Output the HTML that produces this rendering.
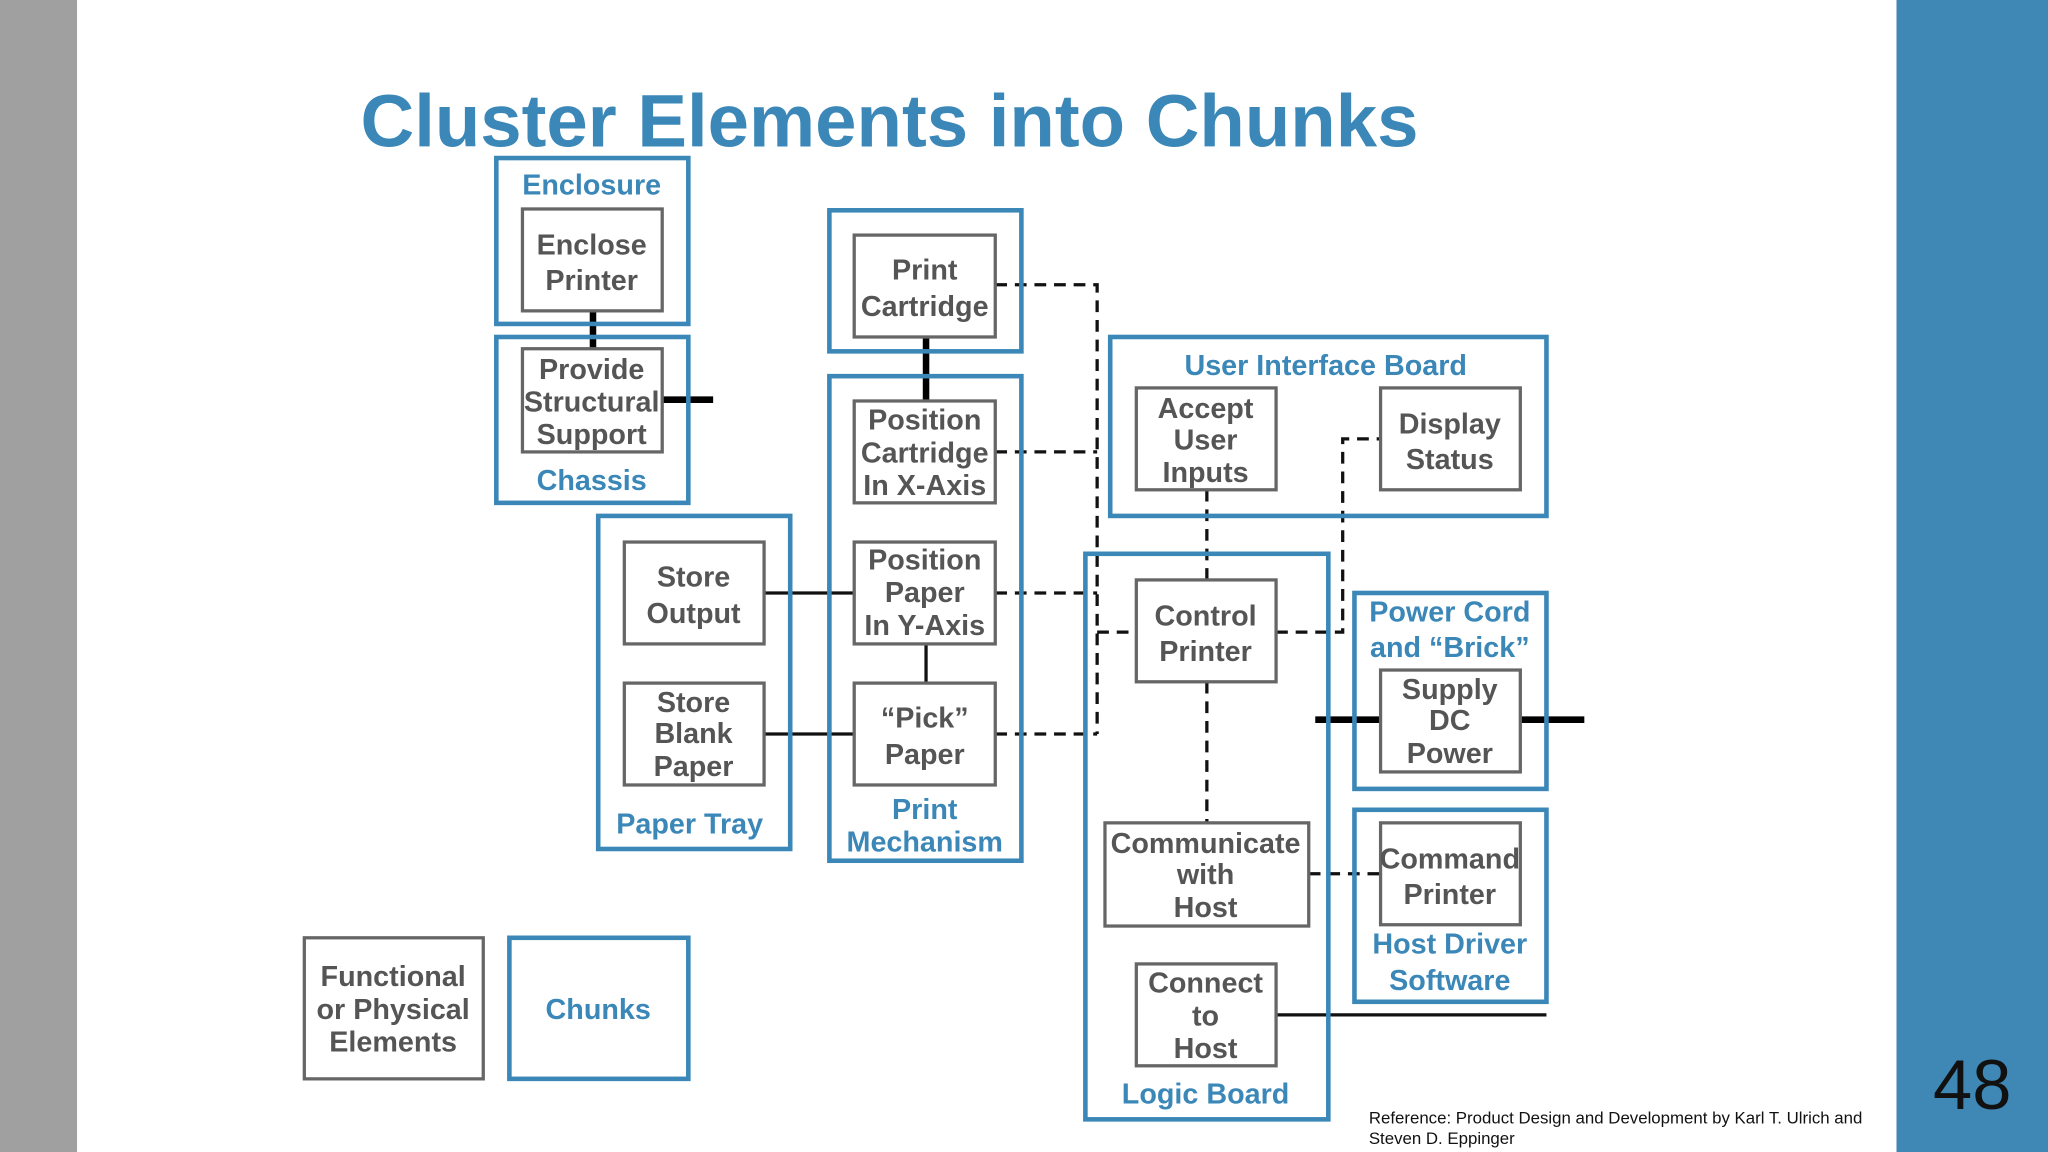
<!DOCTYPE html>
<html><head><meta charset="utf-8"><style>
html,body{margin:0;padding:0;background:#fff;}
svg{display:block}
text{font-family:"Liberation Sans",sans-serif;font-weight:bold;text-anchor:middle}
.g{fill:#555;font-size:22px}
.b{fill:#3a87b8;font-size:22px}
.cb{fill:none;stroke:#3a87b8;stroke-width:3.5}
.gb{fill:#fff;stroke:#666;stroke-width:2.5}
.d{stroke:#111;stroke-width:2.5;stroke-dasharray:9 6;fill:none}
.s{stroke:#111;stroke-width:2.5;fill:none}
.t{stroke:#000;stroke-width:5;fill:none}
</style></head><body>
<svg width="2048" height="1152" viewBox="0 0 1568 882" xmlns="http://www.w3.org/2000/svg">
<rect x="0" y="0" width="1568" height="882" fill="#fff"/>
<rect x="0" y="0" width="59" height="882" fill="#a0a0a0"/>
<rect x="1452" y="0" width="116" height="882" fill="#3f88b5"/>
<text x="681" y="112" textLength="810" lengthAdjust="spacingAndGlyphs" style="font-size:57px;fill:#3a87b8">Cluster Elements into Chunks</text>

<!-- connectors -->
<path class="d" d="M762 218H840V562M762 346H840M762 454H840M762 562H840M840 484H870"/>
<path class="d" d="M977 484H1028V336H1057M924 375V444M924 522V630M1002 669H1057"/>
<path class="s" d="M585 454H654M585 562H654M709 493V523M977 777H1184"/>
<path class="t" d="M454 238V267M507 306H546M709 258V307M1007 551H1057M1164 551H1213"/>

<!-- chunks -->
<rect class="cb" x="380" y="121" width="147" height="127"/>
<rect class="cb" x="380" y="258" width="147" height="127"/>
<rect class="cb" x="635" y="161" width="147" height="108"/>
<rect class="cb" x="635" y="288" width="147" height="371"/>
<rect class="cb" x="458" y="395" width="147" height="255"/>
<rect class="cb" x="850" y="258" width="334" height="137"/>
<rect class="cb" x="831" y="424" width="186" height="433"/>
<rect class="cb" x="1037" y="454" width="147" height="150"/>
<rect class="cb" x="1037" y="620" width="147" height="147"/>
<rect class="cb" x="390" y="718" width="137" height="108"/>

<!-- elements -->
<rect class="gb" x="400" y="160" width="107" height="78"/>
<rect class="gb" x="400" y="267" width="107" height="79"/>
<rect class="gb" x="654" y="180" width="108" height="78"/>
<rect class="gb" x="654" y="307" width="108" height="78"/>
<rect class="gb" x="654" y="415" width="108" height="78"/>
<rect class="gb" x="654" y="523" width="108" height="78"/>
<rect class="gb" x="478" y="415" width="107" height="78"/>
<rect class="gb" x="478" y="523" width="107" height="78"/>
<rect class="gb" x="870" y="297" width="107" height="78"/>
<rect class="gb" x="1057" y="297" width="107" height="78"/>
<rect class="gb" x="870" y="444" width="107" height="78"/>
<rect class="gb" x="846" y="630" width="156" height="79"/>
<rect class="gb" x="870" y="738" width="107" height="78"/>
<rect class="gb" x="1057" y="513" width="107" height="78"/>
<rect class="gb" x="1057" y="630" width="107" height="78"/>
<rect class="gb" x="233" y="718" width="137" height="108"/>

<!-- labels -->
<text class="b" x="453" y="149">Enclosure</text>
<text class="g" x="453" y="195">Enclose</text><text class="g" x="453" y="222">Printer</text>
<text class="g" x="453" y="290">Provide</text><text class="g" x="453" y="315">Structural</text><text class="g" x="453" y="340">Support</text>
<text class="b" x="453" y="375">Chassis</text>
<text class="g" x="708" y="214">Print</text><text class="g" x="708" y="242">Cartridge</text>
<text class="g" x="708" y="329">Position</text><text class="g" x="708" y="354">Cartridge</text><text class="g" x="708" y="379">In X-Axis</text>
<text class="g" x="708" y="436">Position</text><text class="g" x="708" y="461">Paper</text><text class="g" x="708" y="486">In Y-Axis</text>
<text class="g" x="708" y="557">“Pick”</text><text class="g" x="708" y="585">Paper</text>
<text class="b" x="708" y="627">Print</text><text class="b" x="708" y="652">Mechanism</text>
<text class="g" x="531" y="449">Store</text><text class="g" x="531" y="477">Output</text>
<text class="g" x="531" y="545">Store</text><text class="g" x="531" y="569">Blank</text><text class="g" x="531" y="594">Paper</text>
<text class="b" x="528" y="638">Paper Tray</text>
<text class="b" x="1015" y="287">User Interface Board</text>
<text class="g" x="923" y="320">Accept</text><text class="g" x="923" y="344">User</text><text class="g" x="923" y="369">Inputs</text>
<text class="g" x="1110" y="332">Display</text><text class="g" x="1110" y="359">Status</text>
<text class="g" x="923" y="479">Control</text><text class="g" x="923" y="506">Printer</text>
<text class="g" x="923" y="653">Communicate</text><text class="g" x="923" y="677">with</text><text class="g" x="923" y="702">Host</text>
<text class="g" x="923" y="760">Connect</text><text class="g" x="923" y="785">to</text><text class="g" x="923" y="810">Host</text>
<text class="b" x="923" y="845">Logic Board</text>
<text class="b" x="1110" y="476">Power Cord</text><text class="b" x="1110" y="503">and “Brick”</text>
<text class="g" x="1110" y="535">Supply</text><text class="g" x="1110" y="559">DC</text><text class="g" x="1110" y="584">Power</text>
<text class="g" x="1110" y="665">Command</text><text class="g" x="1110" y="692">Printer</text>
<text class="b" x="1110" y="730">Host Driver</text><text class="b" x="1110" y="758">Software</text>
<text class="g" x="301" y="755">Functional</text><text class="g" x="301" y="780">or Physical</text><text class="g" x="301" y="805">Elements</text>
<text class="b" x="458" y="780">Chunks</text>
<text x="1510" y="849" style="font-size:54px;font-weight:normal;fill:#111">48</text>
<text x="1048" y="860" style="font-size:12.9px;font-weight:normal;fill:#111;text-anchor:start">Reference: Product Design and Development by Karl T. Ulrich and</text>
<text x="1048" y="876" style="font-size:12.9px;font-weight:normal;fill:#111;text-anchor:start">Steven D. Eppinger</text>
</svg>
</body></html>
